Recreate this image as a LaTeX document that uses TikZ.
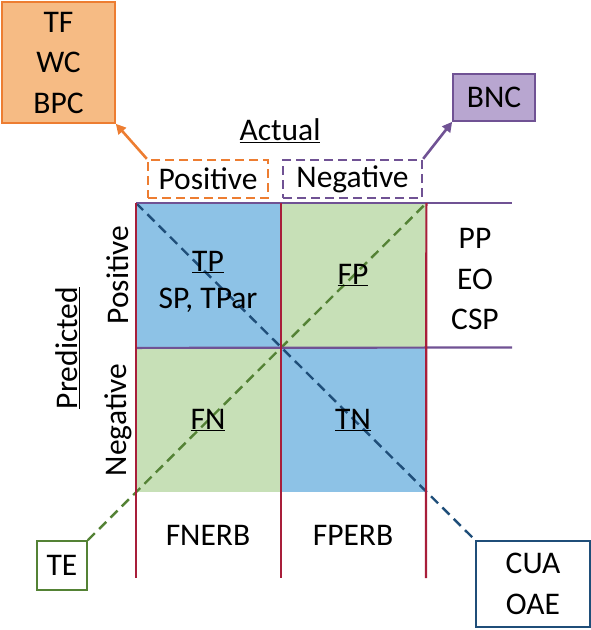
\documentclass[tikz,border=0pt]{standalone}
\usepackage{fontspec}
\setmainfont{Carlito}
\usetikzlibrary{arrows.meta}
\definecolor{gridred}{RGB}{168,30,58}
\definecolor{lpurple}{RGB}{112,82,148}
\definecolor{lorange}{RGB}{237,125,49}
\definecolor{forange}{RGB}{246,187,132}
\definecolor{flav}{RGB}{184,166,208}
\definecolor{lgreen}{RGB}{84,130,53}
\definecolor{lblue}{RGB}{31,78,121}
\definecolor{fblue}{RGB}{141,194,230}
\definecolor{fgreen}{RGB}{199,224,183}
\begin{document}
\begin{tikzpicture}[x=1pt,y=-1pt,
  font=\fontsize{31.5}{40.5}\selectfont,
  cell/.style={inner sep=0pt,minimum width=145pt,minimum height=144.5pt,anchor=north west},
  txt/.style={inner sep=0pt,align=center},
  boxed/.style={inner sep=0pt,align=center,line width=1.6pt},
  dashbox/.style={inner sep=0pt,line width=2.4pt,dash pattern=on 9pt off 5pt},
  diag/.style={line width=2.4pt,dash pattern=on 10pt off 6pt},
  redline/.style={gridred,line width=2.2pt},
  purpline/.style={lpurple,line width=2.2pt},
  arr/.style={line width=2.6pt,-{Triangle[length=10pt,width=10pt]}}
]
\useasboundingbox (0,0) rectangle (590,630);
% cells
\node[cell,fill=fblue] (TP) at (136,203) {};
\node[cell,fill=fgreen] (FP) at (281,203) {};
\node[cell,fill=fgreen] (FN) at (136,347.5) {};
\node[cell,fill=fblue] (TN) at (281,347.5) {};
% outer boxes
\node[boxed,draw=lorange,fill=forange,minimum width=113pt,minimum height=121pt] (OB) at (58.5,62.5) {TF\\WC\\BPC};
\node[boxed,draw=lpurple,fill=flav,minimum width=82pt,minimum height=47pt] (BNC) at (494,97.5) {BNC};
\node[boxed,draw=lgreen,minimum width=50pt,minimum height=49pt] (TE) at (62,565.5) {TE};
\node[boxed,draw=lblue,minimum width=114pt,minimum height=86pt] (CUA) at (533,584) {CUA\\OAE};
\node[dashbox,draw=lorange,minimum width=120pt,minimum height=38pt] (AP) at (208,179) {Positive};
\node[dashbox,draw=lpurple,minimum width=139pt,minimum height=38pt] (AN) at (352.5,179) {Negative};
% grid coordinates
\coordinate (b1) at (136,578);
\coordinate (b2) at (281,578);
\coordinate (b3) at (426,578);
\coordinate (r1) at (512,203);
\coordinate (r2) at (512,347.5);
% diagonals
\draw[diag,lblue] (TP.north west) -- (CUA.north west);
\draw[diag,lgreen] (TE.north east) -- (FP.north east);
% grid
\draw[purpline] (TP.north west) -- (r1);
\draw[purpline] (TP.south west) -- (r2);
\draw[redline] (TP.north west) -- (b1);
\draw[redline] (FP.north west) -- (b2);
\draw[redline] (FP.north east) -- (b3);
% arrows
\draw[arr,lorange] (AP.north west) -- (OB.south east);
\draw[arr,lpurple] (AN.north east) -- (BNC.south west);
% labels
\node[txt] (actual) at (280,131) {\underline{Actual}};
\node[txt,rotate=90] (pred) at (68,348) {\underline{Predicted}};
\node[txt,rotate=90] (ppos) at (118,275) {Positive};
\node[txt,rotate=90] (pneg) at (118,420) {Negative};
\node[txt] (tpl) at (208,262) {\underline{TP}};
\node[txt] (tps) at (208,300) {SP, TPar};
\node[txt] (fpl) at (353,275) {\underline{FP}};
\node[txt] (fnl) at (208,420) {\underline{FN}};
\node[txt] (tnl) at (353,420) {\underline{TN}};
\node[txt] (ppl) at (475,279) {PP\\EO\\CSP};
\node[txt] (fnerb) at (208,535) {FNERB};
\node[txt] (fperb) at (353,535) {FPERB};
\end{tikzpicture}
\end{document}
